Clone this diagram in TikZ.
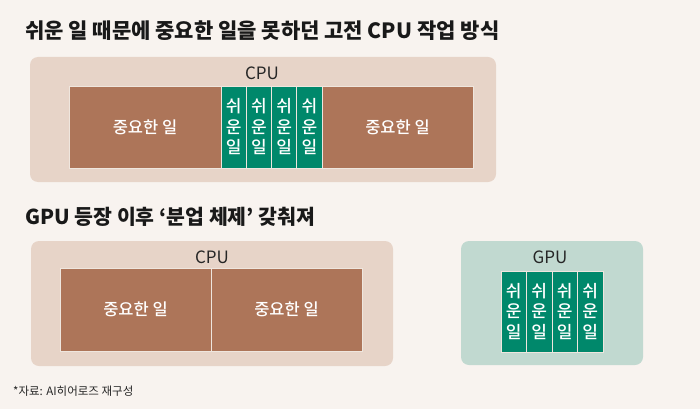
\documentclass[tikz,border=0pt]{standalone}
\usepackage{fontspec}
\setmainfont{Noto Sans CJK KR}
\newfontfamily\labelfont{Noto Sans CJK KR Medium}
\usepackage{tikz}
\usetikzlibrary{positioning}

\definecolor{paper}{HTML}{F8F3EF}
\definecolor{cpubox}{HTML}{E7D4C8}
\definecolor{gpubox}{HTML}{C1D9D0}
\definecolor{hard}{HTML}{AD7559}
\definecolor{easy}{HTML}{00886B}
\definecolor{seam}{HTML}{EFE6DE}

\tikzset{
	headline/.style={anchor=west,font=\bfseries\fontsize{21}{23}\selectfont,text=black!90,inner sep=0pt},
	chip/.style={rounded corners=8pt,inner sep=0pt},
	chiplabel/.style={font=\fontsize{17}{19}\selectfont,text=black!85},
	hardtask/.style={draw=seam,line width=0.8pt,fill=hard,text=white,inner sep=0pt,font=\labelfont\fontsize{16.5}{18}\selectfont},
	easytask/.style={draw=seam,line width=0.8pt,fill=easy,text=white,inner sep=0pt,align=center,minimum width=25.25pt,font=\labelfont\fontsize{17}{20.5}\selectfont},
}

\begin{document}
\begin{tikzpicture}[x=1pt,y=-1pt]
	\fill[paper] (0,0) rectangle (700,409);
	\useasboundingbox (0,0) rectangle (700,409);

	% old way
	\node[headline] (title1) at (25,31) {쉬운 일 때문에 중요한 일을 못하던 고전 CPU 작업 방식};
	\fill[cpubox,chip] (30,57) rectangle (496,182);
	\node[chiplabel] (cpu1) at (262,73) {CPU};
	\node[hardtask,minimum width=152pt,minimum height=82pt] (h1) at (145,127) {중요한 일};
	\node[easytask,minimum height=82pt] (e1) at (233.6,127) {쉬\\운\\일};
	\node[easytask,minimum height=82pt] (e2) at (258.9,127) {쉬\\운\\일};
	\node[easytask,minimum height=82pt] (e3) at (284.1,127) {쉬\\운\\일};
	\node[easytask,minimum height=82pt] (e4) at (309.4,127) {쉬\\운\\일};
	\node[hardtask,minimum width=151pt,minimum height=82pt] (h2) at (397.5,127) {중요한 일};

	% since GPU
	\node[headline,font=\bfseries\fontsize{20.5}{22}\selectfont] (title2) at (25,217) {GPU 등장 이후 ‘분업 체제’ 갖춰져};
	\fill[cpubox,chip] (31,241) rectangle (393,366);
	\node[chiplabel] (cpu2) at (212,257) {CPU};
	\node[hardtask,minimum width=151pt,minimum height=83pt] (h3) at (135.5,309.5) {중요한 일};
	\node[hardtask,minimum width=151pt,minimum height=83pt] (h4) at (286.5,309.5) {중요한 일};

	\fill[gpubox,chip] (461,241) rectangle (643,365);
	\node[chiplabel] (gpu) at (550,257) {GPU};
	\node[easytask,minimum width=25.5pt,minimum height=81pt] (g1) at (513.75,311.5) {쉬\\운\\일};
	\node[easytask,minimum width=25.5pt,minimum height=81pt] (g2) at (539.25,311.5) {쉬\\운\\일};
	\node[easytask,minimum width=25.5pt,minimum height=81pt] (g3) at (564.75,311.5) {쉬\\운\\일};
	\node[easytask,minimum width=25.5pt,minimum height=81pt] (g4) at (590.25,311.5) {쉬\\운\\일};

	\node[anchor=west,inner sep=0pt,font=\fontsize{11.5}{13}\selectfont,text=black!85] (source) at (13,391) {*자료: AI히어로즈 재구성};
\end{tikzpicture}
\end{document}
